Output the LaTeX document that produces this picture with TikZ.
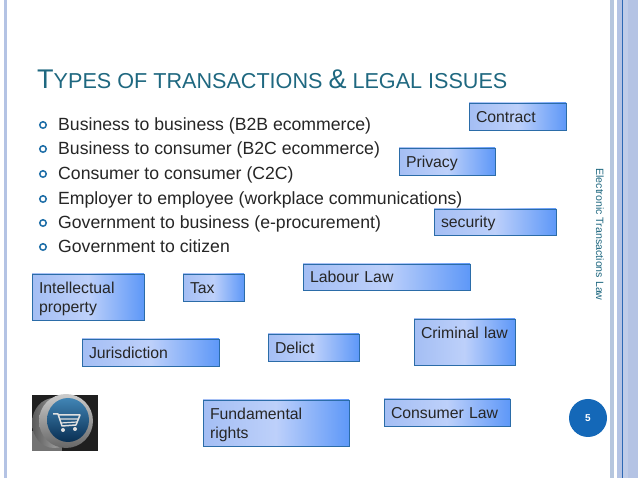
\documentclass[tikz,border=0pt]{standalone}
\usepackage{fontspec}
\setmainfont{Liberation Sans}
\usetikzlibrary{positioning,shadows}
\definecolor{BarBlue}{HTML}{B4C3E4}
\definecolor{BarGrey}{HTML}{B6C6DE}
\definecolor{BarLine}{HTML}{2C68B4}
\definecolor{TitleTeal}{HTML}{1F6880}
\definecolor{BoxEdge}{HTML}{2B6CA8}
\definecolor{BoxEnd}{HTML}{5E98F8}
\definecolor{BoxMid}{HTML}{BDD0FA}
\definecolor{BoxStart}{HTML}{A4BEF4}
\definecolor{BulletBlue}{HTML}{1F6FA8}
\definecolor{PageBlue}{HTML}{1468B8}

\begin{document}
\begin{tikzpicture}[
			x = 1pt, y = 1pt,
			node distance = 8pt,
			BoxStyle/.style={draw=BoxEdge, line width=0.8pt, left color=BoxStart, right color=BoxEnd,
				middle color=BoxMid, minimum height=27pt, inner xsep=7pt, inner ysep=0pt,
				outer sep=0pt, anchor=north west, align=left, text=black!85,
				execute at begin node=\rule[-3.5pt]{0pt}{19pt},
				font=\fontsize{15.8}{19}\selectfont,
				drop shadow={shadow xshift=0.6pt, shadow yshift=-1pt, opacity=0.3}},
			BulletStyle/.style={circle, draw=BulletBlue, line width=1.5pt, minimum size=6.5pt,
				inner sep=0pt},
			ItemStyle/.style={inner sep=0pt, text=black!85, text height=15pt, text depth=3.5pt,
				font=\fontsize{17.65}{20}\selectfont},
			]
			\useasboundingbox (0,0) rectangle (638,479);
			\fill [white] (0,0) rectangle (638,479);
			% side bars
			\fill [BarBlue] (3.5,1) rectangle (7,479);
			\fill [BarGrey] (610,1) rectangle (613.5,479);
			\fill [BarBlue] (617,1) rectangle (638,479);
			\fill [BarBlue!85] (623,1) rectangle (627.5,479);
			\fill [BarLine] (621.8,1) rectangle (623,479);
			% title
			\node [anchor=base west, inner sep=0pt, text=TitleTeal] (title) at (37,390)
				{\fontsize{27}{27}\selectfont T\fontsize{21.6}{27}\selectfont YPES OF TRANSACTIONS
				\fontsize{27}{27}\selectfont \&\fontsize{21.6}{27}\selectfont{} LEGAL ISSUES};
			% bullet list
			\node [BulletStyle] (b1) at (43,354) {};
			\node [BulletStyle] (b2) at (43,330) {};
			\node [BulletStyle] (b3) at (43,305) {};
			\node [BulletStyle] (b4) at (43,280) {};
			\node [BulletStyle] (b5) at (43,256) {};
			\node [BulletStyle] (b6) at (43,232) {};
			\node [ItemStyle, right=11pt of b1] (item1) {Business to business (B2B ecommerce)};
			\node [ItemStyle, right=11pt of b2] (item2) {Business to consumer (B2C ecommerce)};
			\node [ItemStyle, right=11pt of b3] (item3) {Consumer to consumer (C2C)};
			\node [ItemStyle, right=11pt of b4] (item4) {Employer to employee (workplace communications)};
			\node [ItemStyle, right=11pt of b5] (item5) {Government to business (e-procurement)};
			\node [ItemStyle, right=11pt of b6] (item6) {Government to citizen};
			% law boxes
			\node [BoxStyle, text width=83pt] (contract) at (469,376) {Contract};
			\node [BoxStyle, text width=82pt] (privacy) at (399,331) {Privacy};
			\node [BoxStyle, text width=108pt, minimum height=26pt] (security) at (434,270) {security};
			\node [BoxStyle, text width=153pt, minimum height=26pt] (labour) at (303,215) {Labour Law};
			\node [BoxStyle, text width=87pt, minimum height=46pt] (criminal) at (414,160) {Criminal law\\\rule[-3.5pt]{0pt}{1pt}};
			\node [BoxStyle, text width=77pt] (delict) at (268,145) {Delict};
			\node [BoxStyle, text width=112pt] (consumer) at (384,80) {Consumer Law};
			\node [BoxStyle, text width=132pt, minimum height=46pt] (fundamental) at (203,79) {Fundamental\\rights};
			\node [BoxStyle, text width=98pt, minimum height=46pt] (intellectual) at (32,205) {Intellectual\\property};
			\node [BoxStyle, text width=47pt] (tax) at (183,205) {Tax};
			\node [BoxStyle, text width=123pt] (jurisdiction) at (82,140) {Jurisdiction};
			% footer
			\node [rotate=-90, inner sep=0pt, text=TitleTeal, font=\fontsize{10.6}{12}\selectfont]
				(footer) at (600,244.5) {Electronic Transactions Law};
			\node [circle, fill=PageBlue, minimum size=38pt, inner sep=0pt, text=white,
				font=\fontsize{10}{12}\selectfont\bfseries] (page) at (588,61) {5};
			% cart picture
			\begin{scope}
				\clip (32,28) rectangle (98,84);
				\fill [black!88] (32,28) rectangle (98,84);
				\fill [black!55] (32,28) rectangle (62,48);
				\shade [left color=black!65, right color=black!20] (54,56) ellipse (22 and 25);
				\shade [top color=black!20, bottom color=black!60] (66,58) circle (27);
				\shade [top color=BulletBlue!85, bottom color=PageBlue!45!black] (68,59) ellipse (21 and 22);
				\draw [black!12, line width=1.5pt, line join=round] (53,65) -- (58,65) -- (62,53) -- (76,54) -- (80,64) -- (58,64);
				\draw [black!12, line width=1.2pt] (60,60) -- (78,60) (61,56) -- (77,57);
				\fill [black!12] (63,49) circle (2) (75,50) circle (2);
			\end{scope}
		\end{tikzpicture}
\end{document}
